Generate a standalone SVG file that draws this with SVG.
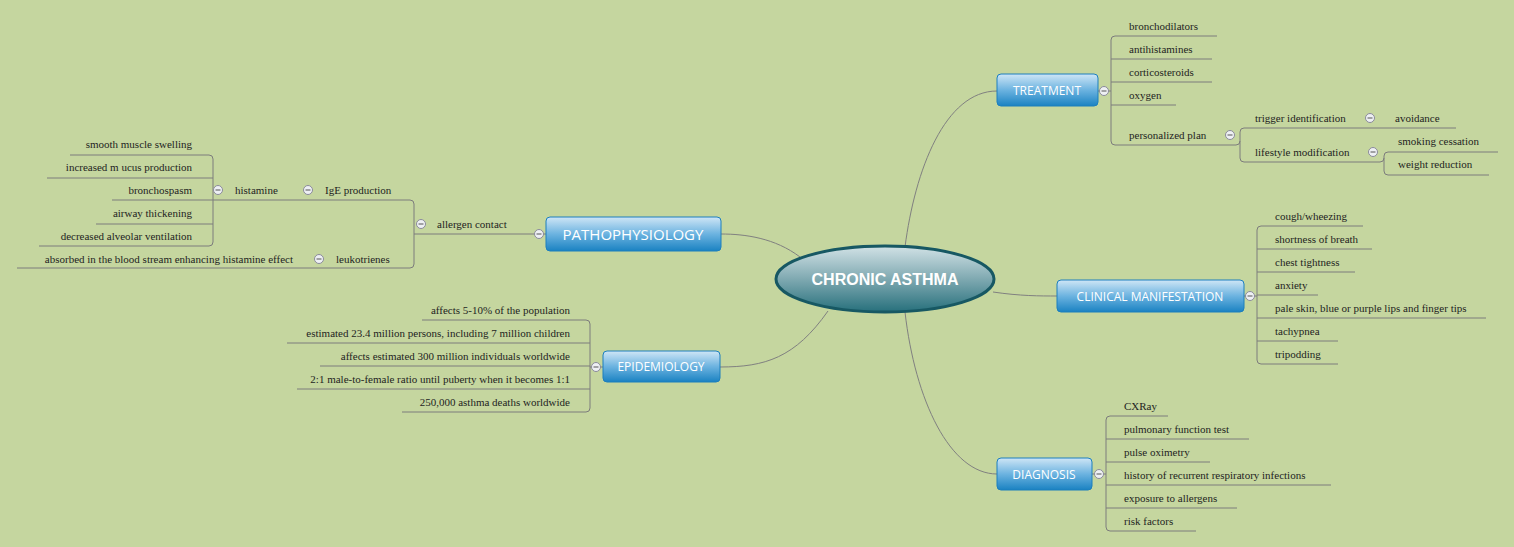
<svg xmlns="http://www.w3.org/2000/svg" width="1514" height="547" viewBox="0 0 1514 547">
<defs>
<linearGradient id="gb" x1="0" y1="0" x2="0" y2="1"><stop offset="0" stop-color="#cfe6f6"/><stop offset="0.5" stop-color="#6cb3e0"/><stop offset="1" stop-color="#1a82c2"/></linearGradient>
<linearGradient id="ge" x1="0" y1="0" x2="0" y2="1"><stop offset="0" stop-color="#d2e2e6"/><stop offset="0.5" stop-color="#7fa9b1"/><stop offset="1" stop-color="#27707c"/></linearGradient>
<style>
.t{font-family:"Liberation Serif",serif;font-size:11px;fill:#1e1e1e}
.r{text-anchor:end}
.ln{fill:none;stroke:#7c7c7c;stroke-width:1}
.cv{fill:none;stroke:#808080;stroke-width:1}
.box{fill:url(#gb);stroke:#1d7fbd;stroke-width:1}
.bt{font-family:"Open Sans","Liberation Sans",sans-serif;fill:#fff;text-anchor:middle}
.c{fill:#eef0f4;stroke:#8a8a9a;stroke-width:1}
.m{stroke:#555;stroke-width:1}
</style>
</defs>
<rect width="1514" height="547" fill="#c5d69f"/>
<g id="connectors">
<path class="cv" d="M905,247 C915,170 945,91 997,91"/>
<path class="cv" d="M800,257 C775,238 745,234 721,234"/>
<path class="cv" d="M993,292 C1020,296 1040,296 1057,296"/>
<path class="cv" d="M828,311 C795,358 765,367 720,367"/>
<path class="cv" d="M905,312 C915,400 950,474 997,474"/>
<path class="ln" d="M1098,91H1111M1111,40V141q0,4 4,4H1236M1111,40q0,-4 4,-4H1217M1111,59H1212M1111,82H1212M1111,105H1176"/>
<path class="ln" d="M1236,145q4,0 4,-4V132q0,-4 4,-4H1456M1240,141V158q0,4 4,4H1380M1380,162q4,0 4,-4V156q0,-4 4,-4H1498M1384,158V171q0,4 4,4H1489"/>
<path class="ln" d="M1244,296H1257M1257,230V360q0,4 4,4H1338M1257,230q0,-4 4,-4H1363M1257,249H1372M1257,272H1355M1257,295H1318M1257,318H1486M1257,341H1338"/>
<path class="ln" d="M1092,474H1106M1106,420V527q0,4 4,4H1196M1106,420q0,-4 4,-4H1168M1106,439H1249M1106,462H1210M1106,485H1331M1106,508H1237"/>
<path class="ln" d="M603,367H590M590,324V408q0,4 -4,4H402M590,324q0,-4 -4,-4H422M590,343H287M590,366H320M590,389H297"/>
<path class="ln" d="M546,234H414M414,204V264q0,4 -4,4H17M414,204q0,-4 -4,-4H112"/>
<path class="ln" d="M213,159V242q0,4 -4,4H39M213,159q0,-4 -4,-4H70M213,178H47M213,224H96"/>
</g>
<g id="center">
<ellipse cx="885" cy="279" rx="109" ry="33" fill="url(#ge)" stroke="#175863" stroke-width="3"/>
<text x="885" y="285" font-family="Liberation Sans,sans-serif" font-weight="bold" font-size="16" fill="#fff" text-anchor="middle">CHRONIC ASTHMA</text>
</g>
<g id="treatment">
<rect class="box" x="997" y="74" width="101" height="32" rx="4"/>
<text class="bt" x="1047" y="95" font-size="12">TREATMENT</text>
<circle class="c" cx="1104" cy="91" r="4.5"/><path class="m" d="M1101.5,91h5"/>
<text class="t" x="1129" y="30">bronchodilators</text>
<text class="t" x="1129" y="53">antihistamines</text>
<text class="t" x="1129" y="76">corticosteroids</text>
<text class="t" x="1129" y="99">oxygen</text>
<text class="t" x="1129" y="139">personalized plan</text>
<circle class="c" cx="1230" cy="135" r="4.5"/><path class="m" d="M1227.5,135h5"/>
<text class="t" x="1255" y="122">trigger identification</text>
<circle class="c" cx="1370" cy="118" r="4.5"/><path class="m" d="M1367.5,118h5"/>
<text class="t" x="1395" y="122">avoidance</text>
<text class="t" x="1255" y="156">lifestyle modification</text>
<circle class="c" cx="1373" cy="152" r="4.5"/><path class="m" d="M1370.5,152h5"/>
<text class="t" x="1398" y="145">smoking cessation</text>
<text class="t" x="1398" y="168">weight reduction</text>
</g>
<g id="clinical">
<rect class="box" x="1057" y="280" width="187" height="32" rx="4"/>
<text class="bt" x="1150" y="301" font-size="12">CLINICAL MANIFESTATION</text>
<circle class="c" cx="1250" cy="296" r="4.5"/><path class="m" d="M1247.5,296h5"/>
<text class="t" x="1275" y="220">cough/wheezing</text>
<text class="t" x="1275" y="243">shortness of breath</text>
<text class="t" x="1275" y="266">chest tightness</text>
<text class="t" x="1275" y="289">anxiety</text>
<text class="t" x="1275" y="312">pale skin, blue or purple lips and finger tips</text>
<text class="t" x="1275" y="335">tachypnea</text>
<text class="t" x="1275" y="358">tripodding</text>
</g>
<g id="diagnosis">
<rect class="box" x="997" y="458" width="95" height="32" rx="4"/>
<text class="bt" x="1044" y="479" font-size="12">DIAGNOSIS</text>
<circle class="c" cx="1099" cy="474" r="4.5"/><path class="m" d="M1096.5,474h5"/>
<text class="t" x="1124" y="410">CXRay</text>
<text class="t" x="1124" y="433">pulmonary function test</text>
<text class="t" x="1124" y="456">pulse oximetry</text>
<text class="t" x="1124" y="479">history of recurrent respiratory infections</text>
<text class="t" x="1124" y="502">exposure to allergens</text>
<text class="t" x="1124" y="525">risk factors</text>
</g>
<g id="epidemiology">
<rect class="box" x="603" y="351" width="117" height="31" rx="4"/>
<text class="bt" x="661" y="371" font-size="12">EPIDEMIOLOGY</text>
<circle class="c" cx="596" cy="367" r="4.5"/><path class="m" d="M593.5,367h5"/>
<text class="t r" x="570" y="314">affects 5-10% of the population</text>
<text class="t r" x="570" y="337">estimated 23.4 million persons, including 7 million children</text>
<text class="t r" x="570" y="360">affects estimated 300 million individuals worldwide</text>
<text class="t r" x="570" y="383">2:1 male-to-female ratio until puberty when it becomes 1:1</text>
<text class="t r" x="570" y="406">250,000 asthma deaths worldwide</text>
</g>
<g id="pathophysiology">
<rect class="box" x="546" y="217" width="175" height="34" rx="4"/>
<text class="bt" x="633" y="240" font-size="15">PATHOPHYSIOLOGY</text>
<circle class="c" cx="539" cy="234" r="4.5"/><path class="m" d="M536.5,234h5"/>
<text class="t" x="437" y="228">allergen contact</text>
<circle class="c" cx="421" cy="224" r="4.5"/><path class="m" d="M418.5,224h5"/>
<text class="t" x="325" y="194">IgE production</text>
<circle class="c" cx="308" cy="190" r="4.5"/><path class="m" d="M305.5,190h5"/>
<text class="t" x="235" y="194">histamine</text>
<circle class="c" cx="218" cy="190" r="4.5"/><path class="m" d="M215.5,190h5"/>
<text class="t r" x="192" y="148">smooth muscle swelling</text>
<text class="t r" x="192" y="171">increased m ucus production</text>
<text class="t r" x="192" y="194">bronchospasm</text>
<text class="t r" x="192" y="217">airway thickening</text>
<text class="t r" x="192" y="240">decreased alveolar ventilation</text>
<text class="t" x="336" y="263">leukotrienes</text>
<circle class="c" cx="319" cy="259" r="4.5"/><path class="m" d="M316.5,259h5"/>
<text class="t r" x="293" y="263">absorbed in the blood stream enhancing histamine effect</text>
</g>
</svg>
